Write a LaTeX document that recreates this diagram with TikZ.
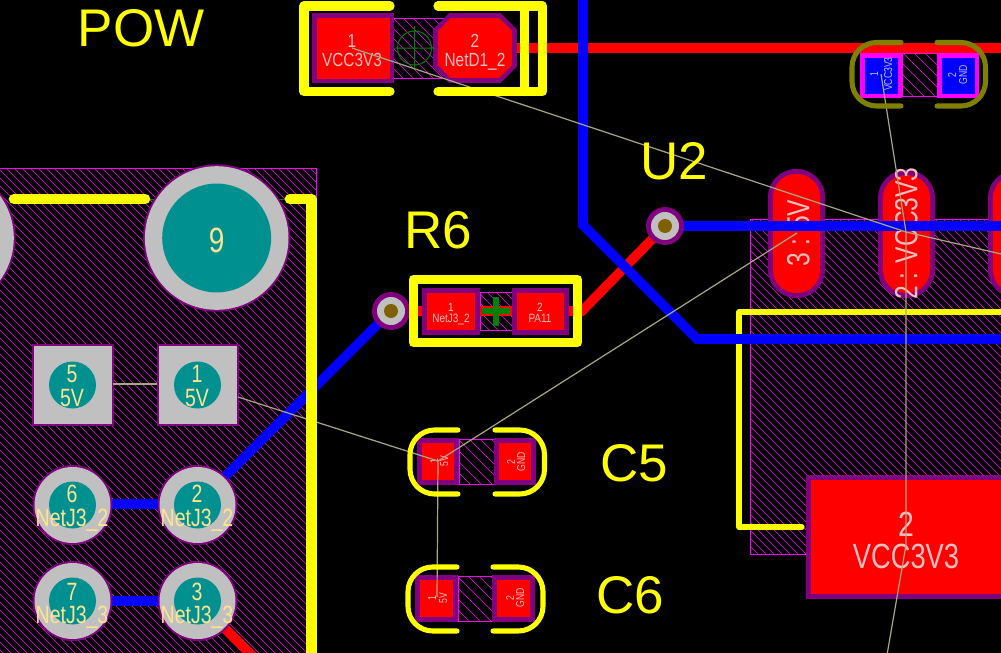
\documentclass[tikz,border=0pt]{standalone}
\usepackage{fontspec}
\setmainfont{Liberation Sans}
\definecolor{pcbred}{HTML}{FF0000}
\definecolor{pcbblue}{HTML}{0000FF}
\definecolor{pcbyel}{HTML}{FFFF00}
\definecolor{pcbpur}{HTML}{800080}
\definecolor{pcbmag}{HTML}{FF00FF}
\definecolor{pcbgrey}{HTML}{C0C0C0}
\definecolor{pcbteal}{HTML}{009090}
\definecolor{pcbbrown}{HTML}{806000}
\definecolor{pcbolive}{HTML}{808000}
\definecolor{pcbgreen}{HTML}{008000}
\definecolor{pinktxt}{HTML}{FFC0C0}
\definecolor{goldtxt}{HTML}{FFE48F}
\definecolor{bluetxt}{HTML}{C0C0FF}
\definecolor{ratsn}{HTML}{A8A880}
\tikzset{
  hatchln/.style={draw=pcbmag,line width=.42pt},
  hatchedge/.style={draw=pcbmag,line width=.7pt},
  redtrack/.style={draw=pcbred,line width=7.2pt},
  bluetrack/.style={draw=pcbblue,line width=7.2pt},
  silk/.style={draw=pcbyel,line width=6.9pt,line cap=round,line join=round},
  silkthin/.style={draw=pcbyel,line width=3.8pt,line cap=round,rounded corners=18.5pt},
  silkolive/.style={draw=pcbolive,line width=3.8pt,line cap=round,rounded corners=18.5pt},
  ratline/.style={draw=ratsn,line width=.9pt},
}
% name,x,y,size(px),xscale,rotation,colour,text
\newcommand\lbl[8]{%
  \pgfmathsetmacro\fsz{#4*.75}%
  \pgfmathsetlengthmacro\capht{#4*.537pt}%
  \node[inner sep=0pt,text height=\capht,text depth=0pt,rotate=#6,text=#7] (#1) at (#2,#3)
    {\fontsize{\fsz pt}{\fsz pt}\selectfont\scalebox{#5}[1]{#8}};}
% x1,y1,x2,y2,spacing
\newcommand\hatch[5]{%
  \begin{scope}\clip (#1,#2) rectangle (#3,#4);
  \pgfmathsetmacro\ha{#1-#4}\pgfmathsetmacro\hb{\ha+#5}\pgfmathsetmacro\hc{#3-#2}
  \foreach \hk in {\ha,\hb,...,\hc}{\draw[hatchln] (\hk+#2,#2) -- (\hk+#4,#4);}
  \end{scope}
  \draw[hatchedge] (#1,#2) rectangle (#3,#4);}
% x1,y1,x2,y2,inset,fill,border
\newcommand\pad[7]{%
  \fill[#7] (#1,#2) rectangle (#3,#4);
  \fill[#6] (#1+#5,#2+#5) rectangle (#3-#5,#4-#5);}
\newcommand\via[2]{%
  \fill[pcbpur] (#1,#2) circle[radius=19];
  \fill[pcbgrey] (#1,#2) circle[radius=14];
  \fill[pcbbrown] (#1,#2) circle[radius=7];}
\newcommand\roundpad[2]{%
  \fill[pcbpur] (#1,#2) circle[radius=40];
  \fill[pcbgrey] (#1,#2) circle[radius=38];
  \fill[pcbteal] (#1,#2) circle[radius=23.5];}
\newcommand\squarepad[2]{%
  \fill[pcbpur] (#1-41,#2-41) rectangle (#1+41,#2+41);
  \fill[pcbgrey] (#1-39,#2-39) rectangle (#1+39,#2+39);
  \fill[pcbteal] (#1,#2) circle[radius=23.5];}
\newcommand\pinshape[3]{%
  \fill[pcbpur,rounded corners=21pt] (#1,#2) rectangle (#1+57,#3);
  \fill[pcbred,rounded corners=17.2pt] (#1+5,#2+5) rectangle (#1+52,#3-5);}
\begin{document}
\begin{tikzpicture}[x=.75pt,y=-.75pt]
\useasboundingbox (0,0) rectangle (1001,653);
\clip (0,0) rectangle (1001,653);
\fill[black] (0,0) rectangle (1001,653);
% courtyard hatching
\hatch{-20}{168}{316}{670}{8}
\hatch{750}{219.5}{1030}{554}{8}
\hatch{393}{18.5}{447}{78}{10}
\hatch{480}{292}{512}{330}{9}
\hatch{459}{439}{494}{484}{11}
\hatch{458}{576}{492}{621}{11}
\hatch{902}{53}{937}{96}{11}
% U2 pins below the tracks
\pinshape{768}{169}{298}
\pinshape{878}{170}{298}
\pinshape{988}{170}{298}
\lbl{pinthree}{798}{233}{32}{.77}{90}{pinktxt}{3 : 5V}
\lbl{pintwo}{906}{233.5}{32}{.77}{90}{pinktxt}{2 : VCC3V3}
% U2 silk
\draw[draw=pcbyel,line width=3.8pt,line cap=round,line join=round] (1010,312) -- (739,312) -- (739,527) -- (802,527);
% green mounting lines
\draw[draw=pcbgreen,line width=.75pt] (14,199) -- (312,199);
% tracks
\draw[redtrack] (500,48) -- (1010,48);
\draw[redtrack] (391,311) -- (582,311) -- (665,226);
\draw[redtrack] (197.5,601) -- (260,663.5);
\draw[bluetrack] (583,-5) -- (583,225) -- (697,339) -- (1010,339);
\draw[bluetrack] (665,226) -- (1010,226);
\draw[bluetrack] (197.5,504) -- (391,311);
\draw[bluetrack] (72.5,504) -- (197.5,504);
\draw[bluetrack] (72.5,601) -- (197.5,601);
% vias
\via{665}{226}
\via{391}{311}
% J3 pads
\fill[pcbpur] (216.7,238) circle[radius=73.7];
\fill[pcbgrey] (216.7,238) circle[radius=71.8];
\fill[pcbteal] (216.7,238) circle[radius=54.5];
\fill[pcbpur] (-58,238) circle[radius=73.7];
\fill[pcbgrey] (-58,238) circle[radius=71.8];
\squarepad{72.5}{385}
\squarepad{197.5}{385}
\roundpad{72.5}{505}
\roundpad{197.5}{505}
\roundpad{72.5}{601}
\roundpad{197.5}{601}
% POW pads
\pad{312}{13}{394}{83}{4.5}{pcbred}{pcbpur}
\draw[draw=pcbpur,fill=pcbred,line width=3.4pt] (450,15.5) -- (500,15.5) -- (514.5,30) -- (514.5,66) -- (500,80.5) -- (450,80.5) -- (435.5,66) -- (435.5,30) -- cycle;
% top right pads
\pad{860}{53}{902}{98}{4.5}{pcbblue}{pcbmag}
\pad{937}{53}{979}{98}{4.5}{pcbblue}{pcbmag}
% R6 pads
\pad{422}{288}{480}{335}{5}{pcbred}{pcbpur}
\pad{512}{288}{569}{335}{5}{pcbred}{pcbpur}
\draw[draw=pcbgreen,line width=4.5pt] (482,311) -- (510,311) (496,297) -- (496,326);
% C5, C6 pads
\pad{417}{438}{459}{485}{4.7}{pcbred}{pcbpur}
\pad{494}{438}{536}{485}{4.7}{pcbred}{pcbpur}
\pad{415}{575}{458}{622}{4.7}{pcbred}{pcbpur}
\pad{492}{575}{535}{622}{4.7}{pcbred}{pcbpur}
% POW mark
\draw[draw=pcbgreen,line width=.75pt] (414.5,48) circle[radius=17] (393,48) -- (436,48) (414.5,26) -- (414.5,70);
% U2 big pad
\pad{806}{475}{1020}{599}{4.7}{pcbred}{pcbpur}
% pad texts
\lbl{powone}{352}{41}{19}{.81}{0}{pinktxt}{1}
\lbl{powvcc}{352}{60}{19}{.81}{0}{pinktxt}{VCC3V3}
\lbl{powtwo}{475}{41}{19}{.81}{0}{pinktxt}{2}
\lbl{pownet}{475}{60}{19}{.81}{0}{pinktxt}{NetD1\_2}
\lbl{rsone}{451}{307}{12}{.83}{0}{pinktxt}{1}
\lbl{rsnet}{451}{318}{12}{.83}{0}{pinktxt}{NetJ3\_2}
\lbl{rstwo}{540}{307}{12}{.83}{0}{pinktxt}{2}
\lbl{rspa}{540}{318}{12}{.83}{0}{pinktxt}{PA11}
\lbl{cfone}{434}{461}{11.5}{.75}{90}{pinktxt}{1}
\lbl{cffv}{444}{461}{11.5}{.75}{90}{pinktxt}{5V}
\lbl{cftwo}{511}{462}{11.5}{.75}{90}{pinktxt}{2}
\lbl{cfg}{521}{462}{11.5}{.75}{90}{pinktxt}{GND}
\lbl{csone}{432}{598}{11.5}{.75}{90}{pinktxt}{1}
\lbl{csfv}{443}{598}{11.5}{.75}{90}{pinktxt}{5V}
\lbl{cstwo}{510}{598}{11.5}{.75}{90}{pinktxt}{2}
\lbl{csg}{520}{598}{11.5}{.75}{90}{pinktxt}{GND}
\lbl{trone}{874}{74}{11.5}{.75}{90}{bluetxt}{1}
\lbl{trvcc}{888}{74}{11.5}{.75}{90}{bluetxt}{VCC3V3}
\lbl{trtwo}{952}{75}{11.5}{.75}{90}{bluetxt}{2}
\lbl{trg}{963}{75}{11.5}{.75}{90}{bluetxt}{GND}
\lbl{bigtwo}{906}{524}{35}{.81}{0}{pinktxt}{2}
\lbl{bigvcc}{906}{556}{35}{.78}{0}{pinktxt}{VCC3V3}
% J3 texts
\lbl{jnine}{216.7}{240}{35}{.8}{0}{goldtxt}{9}
\lbl{jfive}{72}{374}{25}{.78}{0}{goldtxt}{5}
\lbl{jfivev}{72}{398}{25}{.78}{0}{goldtxt}{5V}
\lbl{jone}{197}{374}{25}{.78}{0}{goldtxt}{1}
\lbl{jonev}{197}{398}{25}{.78}{0}{goldtxt}{5V}
\lbl{jsix}{72}{494}{25}{.78}{0}{goldtxt}{6}
\lbl{jsixn}{72}{518}{25}{.78}{0}{goldtxt}{NetJ3\_2}
\lbl{jtwo}{197}{494}{25}{.78}{0}{goldtxt}{2}
\lbl{jtwon}{197}{518}{25}{.78}{0}{goldtxt}{NetJ3\_2}
\lbl{jseven}{72}{592}{25}{.78}{0}{goldtxt}{7}
\lbl{jsevenn}{72}{615}{25}{.78}{0}{goldtxt}{NetJ3\_3}
\lbl{jthree}{197}{592}{25}{.78}{0}{goldtxt}{3}
\lbl{jthreen}{197}{615}{25}{.78}{0}{goldtxt}{NetJ3\_3}
% ratsnest
\draw[ratline] (113,384) -- (157,384);
\draw[ratline] (238,397) -- (438,461) -- (437,597);
\draw[ratline] (438,461) -- (797,233);
\draw[ratline] (352,48) -- (906,232) -- (1010,256);
\draw[ratline] (881,74) -- (906,232) -- (906,545) -- (887,655);
% silk
\draw[silk] (390,6) -- (304,6) -- (304,91.5) -- (390,91.5);
\draw[silk] (438,6) -- (542.5,6) -- (542.5,91.5) -- (438,91.5);
\draw[silk] (524.5,6) -- (524.5,91.5);
\draw[silk] (413.5,279.5) rectangle (577.5,342.5);
\draw[draw=pcbyel,line width=8pt,line cap=round,line join=round] (14,199) -- (145,199);
\draw[draw=pcbyel,line width=8pt,line cap=round,line join=round] (290,199) -- (311.5,199) -- (311.5,670);
\draw[silkthin] (458,430) -- (410,430) -- (410,494) -- (458,494);
\draw[silkthin] (495,430) -- (544.5,430) -- (544.5,494) -- (495,494);
\draw[silkthin] (457,567) -- (408,567) -- (408,631) -- (457,631);
\draw[silkthin] (493,567) -- (543,567) -- (543,631) -- (493,631);
\draw[silkolive] (901,42.5) -- (852,42.5) -- (852,106) -- (901,106);
\draw[silkolive] (937,42.5) -- (985.5,42.5) -- (985.5,106) -- (937,106);
% designators
\lbl{lpow}{141}{28}{53}{1}{0}{pcbyel}{POW}
\lbl{lutwo}{674}{161}{53}{1}{0}{pcbyel}{U2}
\lbl{lrsix}{438}{230}{53}{1}{0}{pcbyel}{R6}
\lbl{lcfive}{634}{463}{53}{1}{0}{pcbyel}{C5}
\lbl{lcsix}{630}{595}{53}{1}{0}{pcbyel}{C6}
\end{tikzpicture}
\end{document}
